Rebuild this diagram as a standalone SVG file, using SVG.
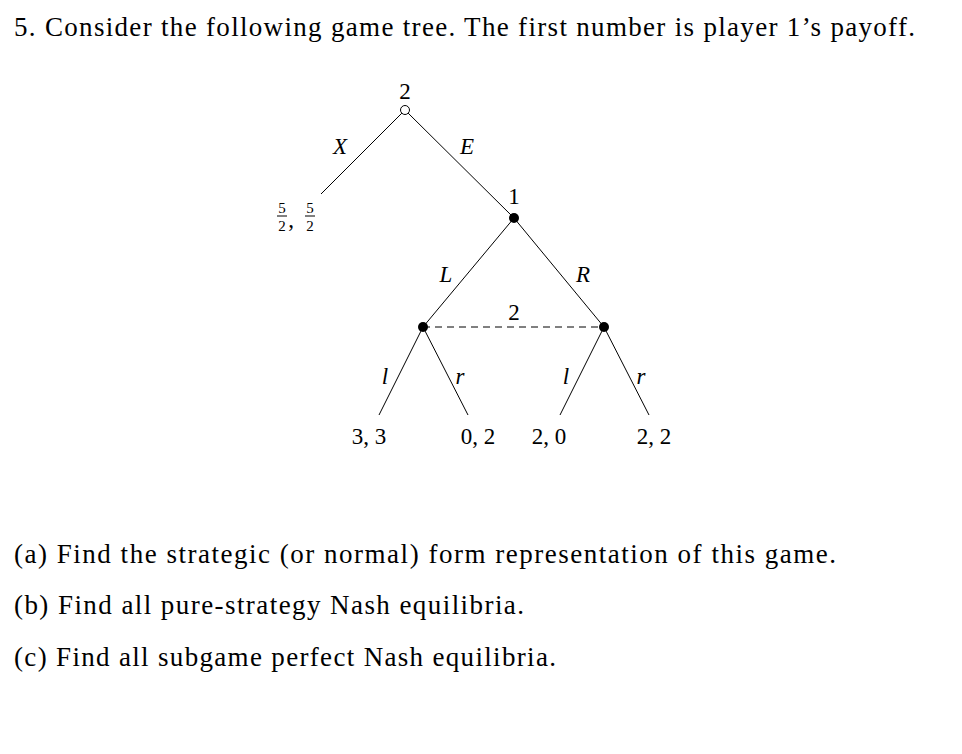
<svg xmlns="http://www.w3.org/2000/svg" width="962" height="754" viewBox="0 0 962 754">
<style>
text{font-family:"Liberation Serif","DejaVu Serif",serif;fill:#000}
.t{font-size:27px}
.l{font-size:23px;text-anchor:middle}
.i{font-style:italic}
.f{font-size:15px;text-anchor:middle}
line{stroke:#000;stroke-width:1}
</style>
<rect width="962" height="754" fill="#fff"/>
<text class="t" x="14" y="36" textLength="901" lengthAdjust="spacing">5. Consider the following game tree. The first number is player 1’s payoff.</text>
<g id="connectors">
<line x1="402" y1="113" x2="321" y2="194"/>
<line x1="408" y1="113" x2="514" y2="218"/>
<line x1="514" y1="218" x2="423" y2="327"/>
<line x1="514" y1="218" x2="604" y2="327"/>
<line x1="423" y1="327" x2="604" y2="327" stroke="#666" stroke-dasharray="7,5"/>
<line x1="423" y1="327" x2="379" y2="415"/>
<line x1="423" y1="327" x2="468" y2="415"/>
<line x1="604" y1="327" x2="560" y2="415"/>
<line x1="604" y1="327" x2="649" y2="415"/>
</g>
<g id="root"><circle cx="405" cy="110" r="4.5" fill="#fff" stroke="#000"/><text class="l" x="405" y="99">2</text></g>
<g id="n1"><circle cx="514" cy="218" r="5" fill="#000"/><text class="l" x="514" y="204">1</text></g>
<g id="nL"><circle cx="423" cy="327" r="5" fill="#000"/></g>
<g id="nR"><circle cx="604" cy="327" r="5" fill="#000"/></g>
<g id="labels">
<text class="l i" x="340" y="154">X</text>
<text class="l i" x="467" y="154">E</text>
<text class="l i" x="446" y="282">L</text>
<text class="l i" x="583" y="282">R</text>
<text class="l" x="514" y="320">2</text>
<text class="l i" x="385" y="384">l</text>
<text class="l i" x="460" y="384">r</text>
<text class="l i" x="566" y="384">l</text>
<text class="l i" x="641" y="384">r</text>
</g>
<g id="leaves">
<text class="f" x="282" y="213">5</text><line x1="277" y1="216" x2="287" y2="216"/><text class="f" x="282" y="231">2</text>
<text class="l" x="291" y="227" font-size="15">,</text>
<text class="f" x="310" y="213">5</text><line x1="305" y1="216" x2="315" y2="216"/><text class="f" x="310" y="231">2</text>
<text class="l" x="369" y="444">3, 3</text>
<text class="l" x="478" y="444">0, 2</text>
<text class="l" x="549" y="444">2, 0</text>
<text class="l" x="654" y="444">2, 2</text>
</g>
<text class="t" x="14" y="563" textLength="822" lengthAdjust="spacing">(a) Find the strategic (or normal) form representation of this game.</text>
<text class="t" x="14" y="614" textLength="510" lengthAdjust="spacing">(b) Find all pure-strategy Nash equilibria.</text>
<text class="t" x="14" y="666" textLength="542" lengthAdjust="spacing">(c) Find all subgame perfect Nash equilibria.</text>
</svg>
